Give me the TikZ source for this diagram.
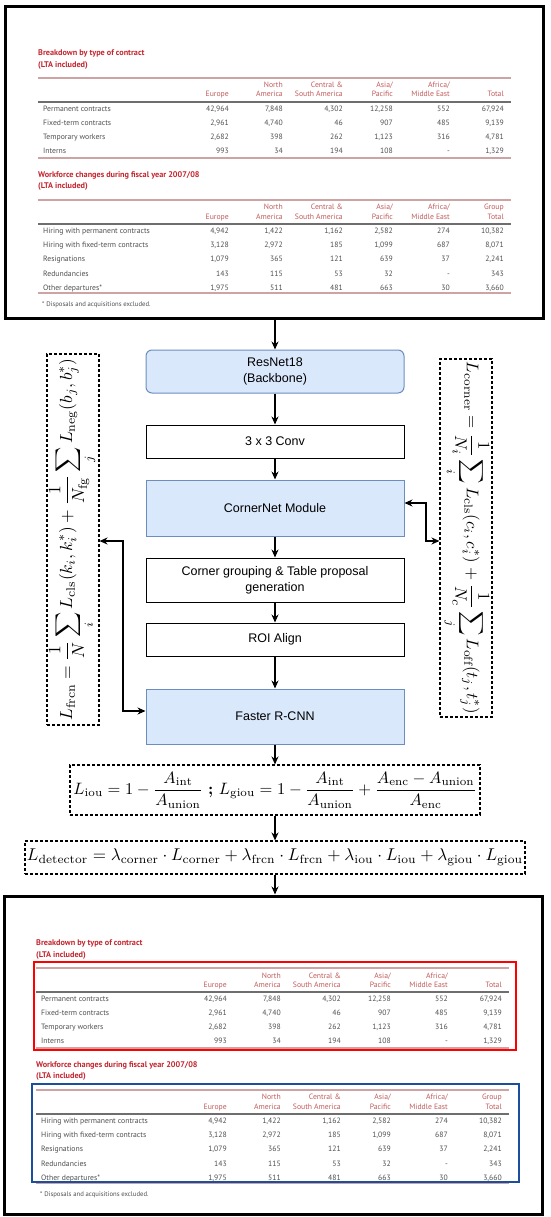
\documentclass[tikz,border=0pt]{standalone}
\usepackage{amsmath}
\usepackage{fontspec}
\usetikzlibrary{arrows.meta}

\newfontfamily\boxfont{Liberation Sans}
\newfontfamily\tablefont{PT Sans}

\definecolor{blockfill}{HTML}{DAE8FC}
\definecolor{blockline}{HTML}{6C8EBF}
\definecolor{titlered}{HTML}{C3262F}
\definecolor{headred}{HTML}{C25B5B}
\definecolor{rulered}{HTML}{CDA3A3}
\definecolor{rulegray}{HTML}{6E6E6E}
\definecolor{cellgray}{HTML}{4F4F4F}
\definecolor{boxblue}{HTML}{1B4F9E}

\tikzset{
	tabtitle/.style={anchor=west, inner sep=0, text=titlered, font=\tablefont\bfseries\fontsize{8.2}{9}\selectfont},
	tabhead/.style={anchor=east, inner sep=0, text=headred, text height=5.5pt, text depth=1.5pt, font=\tablefont\fontsize{7.7}{8}\selectfont},
	tabcell/.style={anchor=east, inner sep=0, text=cellgray, text height=5.5pt, text depth=1.5pt, font=\tablefont\fontsize{7.7}{8}\selectfont},
}

% the two tables of the page, in page pixels
\newcommand{\workforcetables}[1]{%
	\node[tabtitle] (#1titleA) at (38,53) {Breakdown by type of contract};
	\node[tabtitle] (#1ltaA) at (38,65) {(LTA included)};
	\draw[rulered, line width=1.6] (38,78) -- (511,78);
	\foreach \txt/\xx [count=\k] in {North/283, Central \&/343, {Asia/}/393, {Africa/}/450}
		\node[tabhead] (#1headA\k) at (\xx,86) {\txt};
	\foreach \txt/\xx [count=\k] in {Europe/229, America/283, South America/343, Pacific/393, Middle East/450, Total/504}
		\node[tabhead] (#1subA\k) at (\xx,95) {\txt};
	\draw[rulegray, line width=1.2] (38,102) -- (511,102);
	\foreach \lab/\va/\vb/\vc/\vd/\ve/\vf [count=\r] in {
		Permanent contracts/{42,964}/{7,848}/{4,302}/{12,258}/552/{67,924},
		Fixed-term contracts/{2,961}/{4,740}/46/907/485/{9,139},
		Temporary workers/{2,682}/398/262/{1,123}/316/{4,781},
		Interns/993/34/194/108/-/{1,329}}
	{
		\node[tabcell, anchor=west] (#1rowA\r) at (43,95.5+14*\r) {\lab};
		\node[tabcell] (#1euA\r) at (229,95.5+14*\r) {\va};
		\node[tabcell] (#1naA\r) at (283,95.5+14*\r) {\vb};
		\node[tabcell] (#1saA\r) at (343,95.5+14*\r) {\vc};
		\node[tabcell] (#1apA\r) at (393,95.5+14*\r) {\vd};
		\node[tabcell] (#1meA\r) at (450,95.5+14*\r) {\ve};
		\node[tabcell] (#1totA\r) at (504,95.5+14*\r) {\vf};
	}
	\draw[rulered, line width=1.2] (38,158) -- (511,158);
	% workforce changes
	\node[tabtitle] (#1titleB) at (38,175) {Workforce changes during fiscal year 2007/08};
	\node[tabtitle] (#1ltaB) at (38,186) {(LTA included)};
	\draw[rulered, line width=1.6] (38,200) -- (511,200);
	\foreach \txt/\xx [count=\k] in {North/283, Central \&/343, {Asia/}/393, {Africa/}/450, Group/504}
		\node[tabhead] (#1headB\k) at (\xx,207) {\txt};
	\foreach \txt/\xx [count=\k] in {Europe/229, America/283, South America/343, Pacific/393, Middle East/450, Total/504}
		\node[tabhead] (#1subB\k) at (\xx,217) {\txt};
	\draw[rulegray, line width=1.2] (38,224) -- (511,224);
	\foreach \lab/\va/\vb/\vc/\vd/\ve/\vf [count=\r] in {
		Hiring with permanent contracts/{4,942}/{1,422}/{1,162}/{2,582}/274/{10,382},
		Hiring with fixed-term contracts/{3,128}/{2,972}/185/{1,099}/687/{8,071},
		Resignations/{1,079}/365/121/639/37/{2,241},
		Redundancies/143/115/53/32/-/343,
		Other departures*/{1,975}/511/481/663/30/{3,660}}
	{
		\node[tabcell, anchor=west] (#1rowB\r) at (43,217+14.25*\r) {\lab};
		\node[tabcell] (#1euB\r) at (229,217+14.25*\r) {\va};
		\node[tabcell] (#1naB\r) at (283,217+14.25*\r) {\vb};
		\node[tabcell] (#1saB\r) at (343,217+14.25*\r) {\vc};
		\node[tabcell] (#1apB\r) at (393,217+14.25*\r) {\vd};
		\node[tabcell] (#1meB\r) at (450,217+14.25*\r) {\ve};
		\node[tabcell] (#1totB\r) at (504,217+14.25*\r) {\vf};
	}
	\draw[rulered, line width=1.2] (38,293) -- (511,293);
	\node[tabcell, anchor=west, font=\tablefont\fontsize{6.7}{7}\selectfont] (#1note) at (42,304) {* Disposals and acquisitions excluded.};
}

\begin{document}
\begin{tikzpicture}[x=1pt, y=-1pt, >={Stealth[length=8pt,width=7pt]},
		block/.style={draw, line width=1, minimum width=258, minimum height=#1, align=center, font=\boxfont\fontsize{12.5}{16}\selectfont},
		blueblock/.style={block=#1, fill=blockfill, draw=blockline},
		lossbox/.style={draw, line width=1.1, dash pattern=on 3pt off 2pt, inner sep=0},
		pagebox/.style={draw, line width=3, minimum width=538, minimum height=#1, inner sep=0},
		flow/.style={->, line width=1.2},
		twoway/.style={<->, line width=1.2}]
	\fill[white] (0,0) rectangle (550,1217);
	\useasboundingbox (0,0) rectangle (550,1217);

	% input page
	\node[pagebox=311] (topimg) at (274,162.5) {};
	\workforcetables{top}

	% detector
	\node[blueblock=43, rounded corners=6] (resnet) at (275,371.5) {ResNet18\\(Backbone)};
	\node[block=33] (conv) at (275,441.5) {3 x 3 Conv};
	\node[blueblock=56] (cornernet) at (275,508) {CornerNet Module};
	\node[block=44] (grouping) at (275,580) {Corner grouping \& Table proposal\\generation};
	\node[block=33] (roi) at (275,639.5) {ROI Align};
	\node[blueblock=55] (frcnn) at (275,716.5) {Faster R-CNN};

	% losses
	\node[lossbox, minimum width=52, minimum height=371] (frcnloss) at (73,539.5) {\rotatebox{90}{\resizebox{362pt}{!}{$\displaystyle L_{\mathrm{frcn}}=\frac{1}{N}\sum_{i}L_{\mathrm{cls}}(k_i,k_i^*)+\frac{1}{N_{\mathrm{fg}}}\sum_{j}L_{\mathrm{neg}}(b_j,b_j^*)$}}};
	\node[lossbox, minimum width=52, minimum height=358] (cornerloss) at (466,538) {\rotatebox{-90}{\resizebox{352pt}{!}{$\displaystyle L_{\mathrm{corner}}=\frac{1}{N_i}\sum_{i}L_{\mathrm{cls}}(c_i,c_i^*)+\frac{1}{N_c}\sum_{j}L_{\mathrm{off}}(t_j,t_j^*)$}}};
	\node[lossbox, minimum width=410, minimum height=50] (iou) at (275,790) {\resizebox{403pt}{!}{$\displaystyle L_{\mathrm{iou}}=1-\frac{A_{\mathrm{int}}}{A_{\mathrm{union}}}\ \boldsymbol{;}\ L_{\mathrm{giou}}=1-\frac{A_{\mathrm{int}}}{A_{\mathrm{union}}}+\frac{A_{\mathrm{enc}}-A_{\mathrm{union}}}{A_{\mathrm{enc}}}$}};
	\node[lossbox, minimum width=500, minimum height=33] (det) at (275,857.5) {\resizebox{496pt}{!}{$L_{\mathrm{detector}}=\lambda_{\mathrm{corner}}\cdot L_{\mathrm{corner}}+\lambda_{\mathrm{frcn}}\cdot L_{\mathrm{frcn}}+\lambda_{\mathrm{iou}}\cdot L_{\mathrm{iou}}+\lambda_{\mathrm{giou}}\cdot L_{\mathrm{giou}}$}};

	% output page
	\node[pagebox=318] (botimg) at (273,1055) {};
	\begin{scope}[shift={(-2,890)}]
		\workforcetables{bot}
	\end{scope}
	\draw[red, line width=2] (34,962) rectangle (516,1050);
	\draw[boxblue, line width=2] (32,1084) rectangle (519,1182);

	\draw[flow] (topimg.south -| resnet.north) -- (resnet.north);
	\draw[flow] (resnet) -- (conv);
	\draw[flow] (conv) -- (cornernet);
	\draw[flow] (cornernet) -- (grouping);
	\draw[flow] (grouping) -- (roi);
	\draw[flow] (roi) -- (frcnn);
	\draw[flow] (frcnn) -- (iou);
	\draw[flow] (iou) -- (det);
	\draw[flow] (det.south) -- (det.south |- botimg.north);

	\coordinate (frcnjoin) at (123,541);
	\draw[twoway] (frcnjoin -| frcnloss.east) -- (frcnjoin) |- ([yshift=5.5]frcnn.west);
	\coordinate (cornerjoin) at (426,541);
	\draw[twoway] ([yshift=5]cornernet.east) -| (cornerjoin) -- (cornerjoin -| cornerloss.west);
\end{tikzpicture}
\end{document}
